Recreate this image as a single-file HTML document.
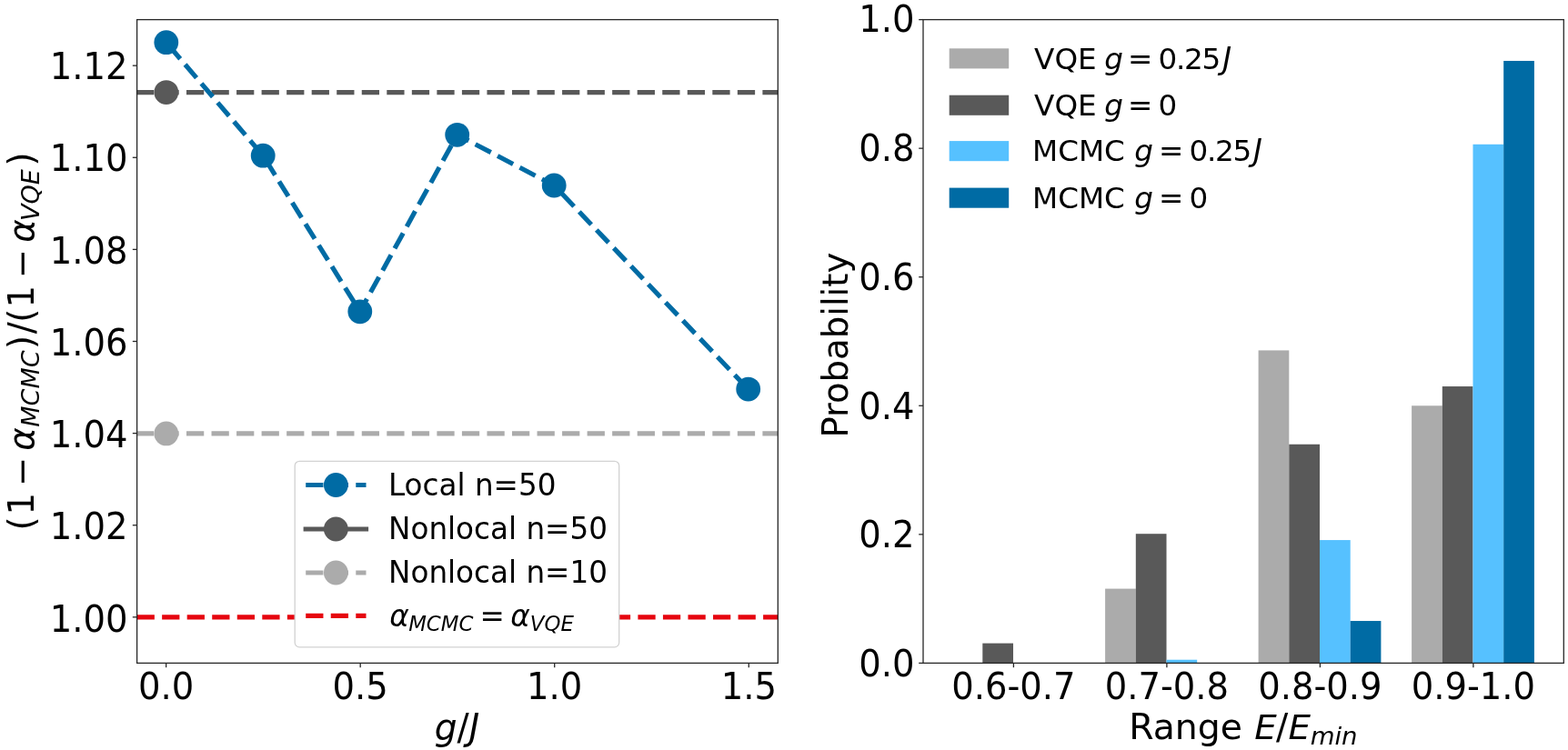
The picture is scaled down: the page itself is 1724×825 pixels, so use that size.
<!DOCTYPE html>
<html lang="en">
<head>
<meta charset="utf-8">
<title>MCMC vs VQE comparison</title>
<style>
html,body{margin:0;padding:0;background:#fff;}
body{width:1724px;height:825px;overflow:hidden;}
svg{display:block;filter:blur(0.5px);}
svg text{font-family:"DejaVu Sans","Liberation Sans",sans-serif;fill:#000;white-space:pre;}
</style>
</head>
<body>
<svg width="1724" height="825" viewBox="0 0 1724 825" role="img" aria-label="Comparison of MCMC and VQE">
<rect width="1724" height="825" fill="#fff"/>
<g id="left-plot">
<line x1="150.60" x2="855.30" y1="678.84" y2="678.84" stroke="#e6060f" stroke-width="5.2" stroke-dasharray="19.26 8.28"/>
<line x1="149.90" x2="855.30" y1="101.60" y2="101.60" stroke="#595959" stroke-width="5.2" stroke-dasharray="19.26 8.28"/>
<circle cx="182.8" cy="101.60" r="13.4" fill="#595959"/>
<line x1="149.90" x2="855.30" y1="476.90" y2="476.90" stroke="#ababab" stroke-width="5.2" stroke-dasharray="19.26 8.28"/>
<circle cx="182.8" cy="476.90" r="13.4" fill="#ababab"/>
<path d="M182.80 46.70 L289.20 171.20 L395.80 342.80 L502.70 148.30 L609.20 204.00 L822.70 428.10" fill="none" stroke="#006ba4" stroke-width="5.2" stroke-dasharray="19.26 8.28" stroke-dashoffset="-4.4" stroke-linejoin="round"/>
<circle cx="182.80" cy="46.70" r="13.4" fill="#006ba4"/>
<circle cx="289.20" cy="171.20" r="13.4" fill="#006ba4"/>
<circle cx="395.80" cy="342.80" r="13.4" fill="#006ba4"/>
<circle cx="502.70" cy="148.30" r="13.4" fill="#006ba4"/>
<circle cx="609.20" cy="204.00" r="13.4" fill="#006ba4"/>
<circle cx="822.70" cy="428.10" r="13.4" fill="#006ba4"/>
<line x1="182.63" x2="182.63" y1="729.4" y2="734.20" stroke="#262626" stroke-width="1.3"/>
<text transform="translate(182.63 768.70) scale(0.963 1)" font-size="40.00" text-anchor="middle">0.0</text>
<line x1="396.18" x2="396.18" y1="729.4" y2="734.20" stroke="#262626" stroke-width="1.3"/>
<text transform="translate(396.18 768.70) scale(0.963 1)" font-size="40.00" text-anchor="middle">0.5</text>
<line x1="609.72" x2="609.72" y1="729.4" y2="734.20" stroke="#262626" stroke-width="1.3"/>
<text transform="translate(609.72 768.70) scale(0.963 1)" font-size="40.00" text-anchor="middle">1.0</text>
<line x1="823.27" x2="823.27" y1="729.4" y2="734.20" stroke="#262626" stroke-width="1.3"/>
<text transform="translate(823.27 768.70) scale(0.963 1)" font-size="40.00" text-anchor="middle">1.5</text>
<line x1="145.79999999999998" x2="150.6" y1="678.84" y2="678.84" stroke="#262626" stroke-width="1.3"/>
<text transform="translate(140.50 694.74) scale(0.963 1)" font-size="40.00" text-anchor="end">1.00</text>
<line x1="145.79999999999998" x2="150.6" y1="577.73" y2="577.73" stroke="#262626" stroke-width="1.3"/>
<text transform="translate(140.50 593.33) scale(0.963 1)" font-size="40.00" text-anchor="end">1.02</text>
<line x1="145.79999999999998" x2="150.6" y1="476.61" y2="476.61" stroke="#262626" stroke-width="1.3"/>
<text transform="translate(140.50 492.11) scale(0.963 1)" font-size="40.00" text-anchor="end">1.04</text>
<line x1="145.79999999999998" x2="150.6" y1="375.50" y2="375.50" stroke="#262626" stroke-width="1.3"/>
<text transform="translate(140.50 390.70) scale(0.963 1)" font-size="40.00" text-anchor="end">1.06</text>
<line x1="145.79999999999998" x2="150.6" y1="274.39" y2="274.39" stroke="#262626" stroke-width="1.3"/>
<text transform="translate(140.50 289.59) scale(0.963 1)" font-size="40.00" text-anchor="end">1.08</text>
<line x1="145.79999999999998" x2="150.6" y1="173.27" y2="173.27" stroke="#262626" stroke-width="1.3"/>
<text transform="translate(140.50 188.47) scale(0.963 1)" font-size="40.00" text-anchor="end">1.10</text>
<line x1="145.79999999999998" x2="150.6" y1="72.16" y2="72.16" stroke="#262626" stroke-width="1.3"/>
<text transform="translate(140.50 86.96) scale(0.963 1)" font-size="40.00" text-anchor="end">1.12</text>
<rect x="150.6" y="21.6" width="704.70" height="707.80" fill="none" stroke="#262626" stroke-width="1.3"/>
<text transform="translate(479.10 813.80) scale(0.978 1)"><tspan x="-1.30" y="0.00" font-size="40.00" font-style="italic">g</tspan><tspan x="24.03" y="0.00" font-size="40.00">/</tspan><tspan x="37.48" y="0.00" font-size="40.00" font-style="italic">J</tspan></text>
<text transform="translate(36.60 580.30) rotate(-90) scale(1.007 1)"><tspan x="-3.26" y="0.00" font-size="38.30">(</tspan><tspan x="13.76" y="0.00" font-size="38.30">1 </tspan><tspan x="45.04" y="0.00" font-size="38.30">− </tspan><tspan x="83.98" y="0.00" font-size="38.30" font-style="italic">α</tspan><tspan x="109.79" y="6.50" font-size="26.81" font-style="italic">MCMC</tspan><tspan x="194.85" y="0.00" font-size="38.30">)</tspan><tspan x="211.62" y="0.00" font-size="38.30">/</tspan><tspan x="223.95" y="0.00" font-size="38.30">(</tspan><tspan x="240.18" y="0.00" font-size="38.30">1 </tspan><tspan x="272.15" y="0.00" font-size="38.30">− </tspan><tspan x="311.38" y="0.00" font-size="38.30" font-style="italic">α</tspan><tspan x="334.96" y="6.50" font-size="26.81" font-style="italic">VQE</tspan><tspan x="394.95" y="0.00" font-size="38.30">)</tspan></text>
<rect x="324.2" y="507.3" width="356.5" height="204.5" rx="5" ry="5" fill="#fff" stroke="#d2d2d2" stroke-width="1.3"/>
<line x1="336.2" x2="402.5" y1="533.5" y2="533.5" stroke="#006ba4" stroke-width="5.2" stroke-dasharray="19.26 8.28"/>
<circle cx="369.35" cy="533.5" r="13.4" fill="#006ba4"/>
<text transform="translate(427.02 544.50) scale(0.992 1)" font-size="32.90">Local n=50</text>
<line x1="333.59999999999997" x2="405.1" y1="582" y2="582" stroke="#595959" stroke-width="5.2"/>
<circle cx="369.35" cy="582" r="13.4" fill="#595959"/>
<text transform="translate(427.02 593.00) scale(0.992 1)" font-size="32.90">Nonlocal n=50</text>
<line x1="336.2" x2="402.5" y1="630" y2="630" stroke="#ababab" stroke-width="5.2" stroke-dasharray="19.26 8.28"/>
<circle cx="369.35" cy="630" r="13.4" fill="#ababab"/>
<text transform="translate(427.02 641.00) scale(0.992 1)" font-size="32.90">Nonlocal n=10</text>
<line x1="336.2" x2="402.5" y1="677.3" y2="677.3" stroke="#e6060f" stroke-width="5.2" stroke-dasharray="19.26 8.28"/>
<text transform="translate(429.80 688.80) scale(0.992 1)"><tspan x="-1.48" y="0.00" font-size="32.90" font-style="italic">α</tspan><tspan x="19.53" y="5.20" font-size="23.03" font-style="italic">MCMC </tspan><tspan x="98.56" y="0.20" font-size="32.90">= </tspan><tspan x="132.49" y="0.00" font-size="32.90" font-style="italic">α</tspan><tspan x="154.26" y="5.20" font-size="23.03" font-style="italic">VQE</tspan></text>
</g>
<g id="right-plot">
<rect x="1080.31" y="707.60" width="33.70" height="21.80" fill="#595959"/>
<rect x="1215.11" y="647.58" width="33.70" height="81.82" fill="#ababab"/>
<rect x="1248.81" y="587.20" width="33.70" height="142.20" fill="#595959"/>
<rect x="1282.50" y="725.72" width="33.70" height="3.68" fill="#56c1ff"/>
<rect x="1383.60" y="385.41" width="33.70" height="343.99" fill="#ababab"/>
<rect x="1417.30" y="488.75" width="33.70" height="240.65" fill="#595959"/>
<rect x="1451.00" y="594.07" width="33.70" height="135.33" fill="#56c1ff"/>
<rect x="1484.69" y="683.04" width="33.70" height="46.36" fill="#006ba4"/>
<rect x="1552.09" y="446.28" width="33.70" height="283.12" fill="#ababab"/>
<rect x="1585.79" y="425.05" width="33.70" height="304.35" fill="#595959"/>
<rect x="1619.49" y="158.77" width="33.70" height="570.63" fill="#56c1ff"/>
<rect x="1653.19" y="66.97" width="33.70" height="662.43" fill="#006ba4"/>
<line x1="1114.41" x2="1114.41" y1="729.4" y2="734.20" stroke="#262626" stroke-width="1.3"/>
<text transform="translate(1114.41 768.70) scale(0.963 1)" font-size="40.00" text-anchor="middle">0.6-0.7</text>
<line x1="1282.90" x2="1282.90" y1="729.4" y2="734.20" stroke="#262626" stroke-width="1.3"/>
<text transform="translate(1282.90 768.70) scale(0.963 1)" font-size="40.00" text-anchor="middle">0.7-0.8</text>
<line x1="1451.40" x2="1451.40" y1="729.4" y2="734.20" stroke="#262626" stroke-width="1.3"/>
<text transform="translate(1451.40 768.70) scale(0.963 1)" font-size="40.00" text-anchor="middle">0.8-0.9</text>
<line x1="1619.89" x2="1619.89" y1="729.4" y2="734.20" stroke="#262626" stroke-width="1.3"/>
<text transform="translate(1619.89 768.70) scale(0.963 1)" font-size="40.00" text-anchor="middle">0.9-1.0</text>
<line x1="1010.2" x2="1015.0" y1="729.40" y2="729.40" stroke="#262626" stroke-width="1.3"/>
<text transform="translate(1005.40 744.40) scale(0.963 1)" font-size="40.00" text-anchor="end">0.0</text>
<line x1="1010.2" x2="1015.0" y1="587.84" y2="587.84" stroke="#262626" stroke-width="1.3"/>
<text transform="translate(1005.40 602.44) scale(0.963 1)" font-size="40.00" text-anchor="end">0.2</text>
<line x1="1010.2" x2="1015.0" y1="446.28" y2="446.28" stroke="#262626" stroke-width="1.3"/>
<text transform="translate(1005.40 460.88) scale(0.963 1)" font-size="40.00" text-anchor="end">0.4</text>
<line x1="1010.2" x2="1015.0" y1="304.72" y2="304.72" stroke="#262626" stroke-width="1.3"/>
<text transform="translate(1005.40 319.12) scale(0.963 1)" font-size="40.00" text-anchor="end">0.6</text>
<line x1="1010.2" x2="1015.0" y1="163.16" y2="163.16" stroke="#262626" stroke-width="1.3"/>
<text transform="translate(1005.40 177.46) scale(0.963 1)" font-size="40.00" text-anchor="end">0.8</text>
<line x1="1010.2" x2="1015.0" y1="21.60" y2="21.60" stroke="#262626" stroke-width="1.3"/>
<text transform="translate(1005.40 35.30) scale(0.963 1)" font-size="40.00" text-anchor="end">1.0</text>
<rect x="1015.0" y="21.6" width="704.30" height="707.80" fill="none" stroke="#262626" stroke-width="1.3"/>
<text transform="translate(931.80 477.80) rotate(-90) scale(1.007 1)"><tspan x="-3.73" y="0.00" font-size="38.30">Probability</tspan></text>
<text transform="translate(1245.00 812.80) scale(1.02 1)"><tspan x="-3.76" y="0.00" font-size="38.60">Range </tspan><tspan x="131.60" y="0.00" font-size="38.02" font-style="italic">E</tspan><tspan x="154.90" y="0.00" font-size="38.60">/</tspan><tspan x="168.17" y="0.00" font-size="38.02" font-style="italic">E</tspan><tspan x="191.80" y="6.20" font-size="27.02" font-style="italic">min</tspan></text>
<rect x="1043.7" y="53.3" width="65.5" height="22.1" fill="#ababab"/>
<text transform="translate(1137.30 75.60) scale(1.02 1)"><tspan x="-0.24" y="0.00" font-size="32.00">VQE </tspan><tspan x="75.33" y="0.00" font-size="32.00" font-style="italic">g </tspan><tspan x="100.76" y="0.00" font-size="32.00">= </tspan><tspan x="133.61" y="0.00" font-size="32.00" letter-spacing="-1.3">0.25</tspan><tspan x="202.79" y="0.00" font-size="32.96" font-style="italic">J</tspan></text>
<rect x="1043.7" y="104.7" width="65.5" height="22.1" fill="#595959"/>
<text transform="translate(1137.30 127.00) scale(1.02 1)"><tspan x="-0.24" y="0.00" font-size="32.00">VQE </tspan><tspan x="75.33" y="0.00" font-size="32.00" font-style="italic">g </tspan><tspan x="100.76" y="0.00" font-size="32.00">= </tspan><tspan x="133.61" y="0.00" font-size="32.00">0</tspan></text>
<rect x="1043.7" y="155.1" width="65.5" height="22.1" fill="#56c1ff"/>
<text transform="translate(1138.20 177.40) scale(1.02 1)"><tspan x="-3.12" y="0.00" font-size="32.00">MCMC </tspan><tspan x="106.90" y="0.00" font-size="32.00" font-style="italic">g </tspan><tspan x="133.11" y="0.00" font-size="32.00">= </tspan><tspan x="165.96" y="0.00" font-size="32.00" letter-spacing="-1.3">0.25</tspan><tspan x="235.14" y="0.00" font-size="32.96" font-style="italic">J</tspan></text>
<rect x="1043.7" y="206.6" width="65.5" height="22.1" fill="#006ba4"/>
<text transform="translate(1138.20 228.90) scale(1.02 1)"><tspan x="-3.12" y="0.00" font-size="32.00">MCMC </tspan><tspan x="106.90" y="0.00" font-size="32.00" font-style="italic">g </tspan><tspan x="133.11" y="0.00" font-size="32.00">= </tspan><tspan x="165.96" y="0.00" font-size="32.00">0</tspan></text>
</g>
</svg>
</body>
</html>
